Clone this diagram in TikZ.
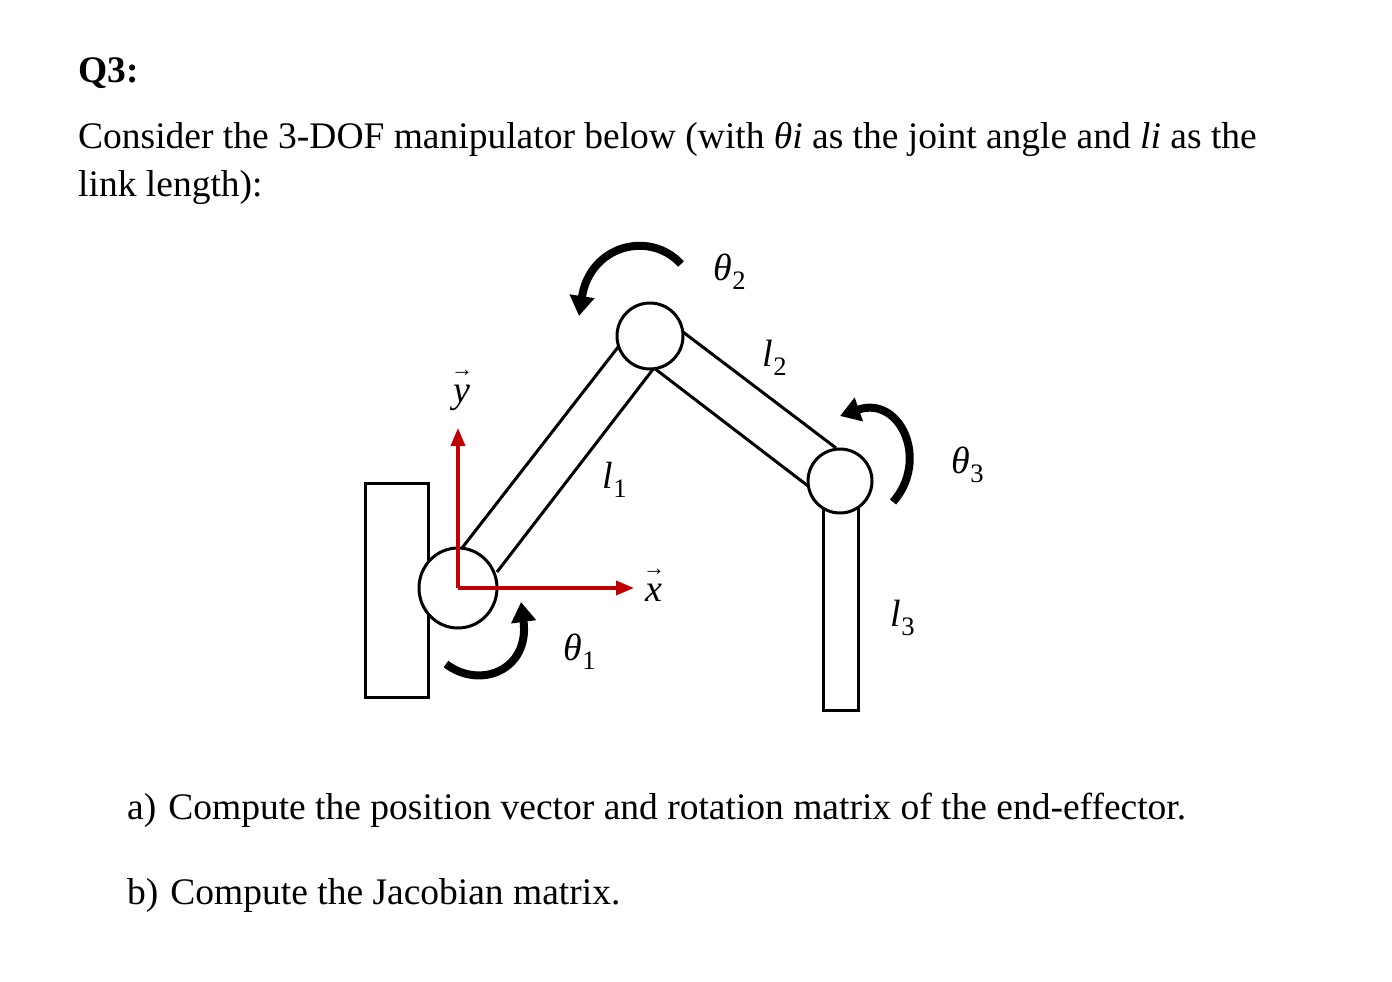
\documentclass[tikz,border=0pt]{standalone}
\usepackage{fontspec}
\setmainfont{Liberation Serif}
\usetikzlibrary{arrows.meta,shapes.geometric}
\begin{document}
\begin{tikzpicture}[x=1pt,y=-1pt,
  txt/.style={anchor=base west,inner sep=0pt,font=\fontsize{37.5}{42}\selectfont},
  lab/.style={inner sep=0pt,font=\fontsize{38}{40}\selectfont\itshape},
  bar/.style={line width=3pt},
  rot/.style={line width=8pt,-{Triangle[length=20pt,width=24pt]}},
  axis/.style={line width=3.5pt,draw={rgb,255:red,192;green,0;blue,0},-{Triangle[length=18pt,width=14pt]}}]
\useasboundingbox (0,0) rectangle (1392,982);
\node[txt,font=\fontsize{37.5}{42}\selectfont\bfseries] (q) at (78,82) {Q3:};
\node[txt] (l1t) at (78,148) {Consider the 3-DOF manipulator below (with \textit{θi} as the joint angle and \textit{li} as the};
\node[txt] (l2t) at (78,196) {link length):};
\node[txt] (a) at (127,819) {a)\hspace{12pt}Compute the position vector and rotation matrix of the end-effector.};
\node[txt] (b) at (127,904) {b)\hspace{12pt}Compute the Jacobian matrix.};
% wall
\draw[bar] (365,483) rectangle (428,697);
% link 3
\draw[bar,fill=white] (823,500) rectangle (858,710);
% links
\draw[bar] (462,548) -- (622,342);
\draw[bar] (497,572) -- (654,368);
\draw[bar] (683,332) -- (836,448);
\draw[bar] (654,368) -- (808,486);
% joints
\node[draw,bar,fill=white,ellipse,minimum width=78pt,minimum height=80pt,inner sep=0pt] (j1) at (458,588) {};
\node[draw,bar,fill=white,circle,minimum size=66pt,inner sep=0pt] (j2) at (650,336) {};
\node[draw,bar,fill=white,circle,minimum size=64pt,inner sep=0pt] (j3) at (840,481) {};
% axes
\coordinate (o) at (458,588);
\coordinate (ye) at (458,428);
\coordinate (xe) at (634,588);
\draw[axis] (o) -- (ye);
\draw[axis] (o) -- (xe);
\node[lab,align=center] (yl) at (462,390) {{\fontsize{22}{14}\selectfont\upshape →}\\[-14pt]y};
\node[lab,align=center] (xl) at (654,585) {{\fontsize{22}{14}\selectfont\upshape →}\\[-14pt]x};
% rotation arrows
\draw[rot] (446,664) .. controls (480,690) and (530,670) .. (521,602);
\draw[rot] (681,264) .. controls (650,230) and (590,245) .. (579,316);
\draw[rot] (893,502) .. controls (930,460) and (900,395) .. (840,416);
% labels
\node[lab] (t1) at (580,652) {θ\textsubscript{\upshape 1}};
\node[lab] (t2) at (730,272) {θ\textsubscript{\upshape 2}};
\node[lab] (t3) at (968,465) {θ\textsubscript{\upshape 3}};
\node[lab] (ll1) at (615,480) {l\textsubscript{\upshape 1}};
\node[lab] (ll2) at (775,358) {l\textsubscript{\upshape 2}};
\node[lab] (ll3) at (903,618) {l\textsubscript{\upshape 3}};
\end{tikzpicture}
\end{document}
